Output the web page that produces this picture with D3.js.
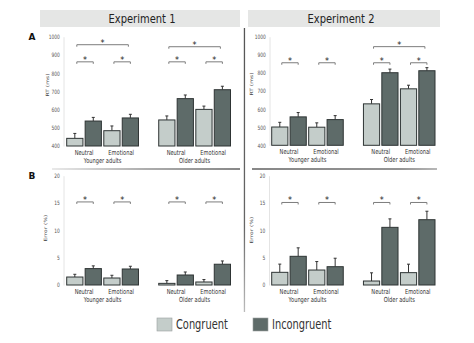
<!DOCTYPE html>
<html>
<head>
<meta charset="utf-8">
<script src="https://cdn.jsdelivr.net/npm/d3@7"></script>
<style>
    body { margin: 0; background: #fff; }
    svg { display: block; font-family: "DejaVu Sans", Verdana, sans-serif; }
</style>
</head>
<body>
<div id="chart"></div>
<script>
// values, order: age group > condition > congruence
const ageGroups = ["Younger adults", "Older adults"];
const conditions = ["Neutral", "Emotional"];
const congruence = ["Congruent", "Incongruent"];
const experiments = ["Experiment 1", "Experiment 2"];

const rtTicks = [400, 500, 600, 700, 800, 900, 1000];
const errorTicks = [0, 5, 10, 15, 20];

const rtExp1 = [442, 537, 484, 554, 543, 660, 601, 709];
const rtExp1Err = [27, 20, 26, 20, 22, 20, 18, 19];
const rtExp2 = [501, 557, 500, 542, 629, 801, 712, 812];
const rtExp2Err = [26, 24, 24, 22, 24, 20, 20, 17];

const errorExp1 = [1.46, 3.0, 1.28, 2.93, 0.3, 1.83, 0.55, 3.8];
const errorExp1Err = [0.5, 0.5, 0.5, 0.5, 0.5, 0.55, 0.45, 0.6];
const errorExp2 = [2.32, 5.25, 2.74, 3.35, 0.73, 10.55, 2.26, 11.95];
const errorExp2Err = [1.5, 1.55, 1.55, 1.55, 1.5, 1.55, 1.55, 1.55];

// significance brackets: [age group, first condition, last condition, level]
const sigRtExp1 = [
    ["Younger adults", "Neutral", "Neutral", 862],
    ["Younger adults", "Emotional", "Emotional", 862],
    ["Younger adults", "Neutral", "Emotional", 956],
    ["Older adults", "Neutral", "Neutral", 862],
    ["Older adults", "Emotional", "Emotional", 862],
    ["Older adults", "Neutral", "Emotional", 945]
];
const sigRtExp2 = [
    ["Younger adults", "Neutral", "Neutral", 856],
    ["Younger adults", "Emotional", "Emotional", 856],
    ["Older adults", "Neutral", "Neutral", 856],
    ["Older adults", "Emotional", "Emotional", 856],
    ["Older adults", "Neutral", "Emotional", 945]
];
const sigErrorExp1 = [
    ["Younger adults", "Neutral", "Neutral", 15.2],
    ["Younger adults", "Emotional", "Emotional", 15.2],
    ["Older adults", "Neutral", "Neutral", 15.2],
    ["Older adults", "Emotional", "Emotional", 15.2]
];
const sigErrorExp2 = [
    ["Younger adults", "Neutral", "Neutral", 15.1],
    ["Younger adults", "Emotional", "Emotional", 15.1],
    ["Older adults", "Neutral", "Neutral", 15.1],
    ["Older adults", "Emotional", "Emotional", 15.1]
];

const width = 474, height = 343;
const squeeze = 0.73;   // the original figure is squashed horizontally

const color = d3.scaleOrdinal(congruence, ["#c4cdca", "#5e6b69"]);

const svg = d3.select("#chart").append("svg")
    .attr("width", width)
    .attr("height", height);

// text helper, squashed like the source picture
function addText(parent, x, y, str, size, opts = {}) {
    let sx = opts.sx || squeeze;
    let t = parent.append("text")
        .attr("transform", "translate(" + x + "," + y + ") scale(" + sx + ",1)" + (opts.rotate ? " rotate(-90)" : ""))
        .attr("text-anchor", opts.anchor || "middle")
        .attr("font-size", size)
        .attr("fill", opts.fill || "#333")
        .text(str);
    if (opts.bold) t.attr("font-weight", "bold");
    if (opts.dy) t.attr("dy", opts.dy);
    return t;
}

// gradients for the separator lines
let defs = svg.append("defs");
function gradient(id, x2, y2, stops) {
    let g = defs.append("linearGradient").attr("id", id)
        .attr("x1", 0).attr("y1", 0).attr("x2", x2).attr("y2", y2);
    stops.forEach(s => g.append("stop").attr("offset", s[0]).attr("stop-color", s[1]));
}
gradient("fadeLeft", 1, 0, [[0, "#e0e0e0"], [0.5, "#8a8a8a"], [1, "#555"]]);
gradient("fadeRight", 1, 0, [[0, "#555"], [0.8, "#666"], [1, "#999"]]);
gradient("fadeDown", 0, 1, [[0, "#555"], [0.7, "#666"], [1, "#bbb"]]);

// experiment headers
const headers = [[40, 240, 142], [248, 440, 341]];
experiments.forEach((name, i) => {
    let h = headers[i];
    svg.append("rect")
        .attr("x", h[0]).attr("y", 10)
        .attr("width", h[1] - h[0]).attr("height", 17)
        .attr("fill", "#e5e6e5");
    addText(svg, h[2], 23, name, 12, {sx: 0.83, fill: "#222"});
});

// separators
svg.append("rect").attr("x", 52).attr("y", 168.3).attr("width", 188).attr("height", 1.4).attr("fill", "url(#fadeLeft)");
svg.append("rect").attr("x", 252).attr("y", 168.3).attr("width", 185).attr("height", 1.4).attr("fill", "url(#fadeRight)");
svg.append("rect").attr("x", 243.8).attr("y", 28).attr("width", 1.3).attr("height", 284).attr("fill", "url(#fadeDown)");

// panel letters
addText(svg, 32, 40, "A", 9, {bold: true, fill: "#111", sx: 1});
addText(svg, 32, 179, "B", 9, {bold: true, fill: "#111", sx: 1});

const panels = [
    {values: rtExp1, errs: rtExp1Err, sig: sigRtExp1, ticks: rtTicks, domain: [400, 1000],
        xRange: [66.7, 230.5], yRange: [146, 36.7], axisX: 63.5, title: "RT (ms)", titleX: 47, titleY: 85},
    {values: rtExp2, errs: rtExp2Err, sig: sigRtExp2, ticks: rtTicks, domain: [400, 1000],
        xRange: [271.7, 435], yRange: [145.3, 36.7], axisX: 269.5, title: "RT (ms)", titleX: 251, titleY: 84},
    {values: errorExp1, errs: errorExp1Err, sig: sigErrorExp1, ticks: errorTicks, domain: [0, 20],
        xRange: [66.7, 230.5], yRange: [285, 175.7], axisX: 63.5, title: "Error (%)", titleX: 45.5, titleY: 228},
    {values: errorExp2, errs: errorExp2Err, sig: sigErrorExp2, ticks: errorTicks, domain: [0, 20],
        xRange: [271.7, 435], yRange: [285, 175.7], axisX: 269, title: "Error (%)", titleX: 251, titleY: 230}
];

panels.forEach(p => {
    let g = svg.append("g");

    let ageX = d3.scaleBand().domain(ageGroups).range(p.xRange).paddingInner(0.22);
    let condX = d3.scaleBand().domain(conditions).range([0, ageX.bandwidth()]).paddingInner(0.065);
    let congX = d3.scaleBand().domain(congruence).range([0, condX.bandwidth()]).paddingInner(0.12);
    let y = d3.scaleLinear().domain(p.domain).range(p.yRange);

    let rows = [];
    ageGroups.forEach((a, i) => conditions.forEach((c, j) => congruence.forEach((k, l) => {
        let idx = i * 4 + j * 2 + l;
        rows.push({age: a, cond: c, cong: k, value: p.values[idx], err: p.errs[idx]});
    })));
    let barX = d => ageX(d.age) + condX(d.cond) + congX(d.cong);

    // axis
    let axis = g.append("g")
        .attr("transform", "translate(" + p.axisX + ",0)")
        .call(d3.axisLeft(y).tickValues(p.ticks).tickFormat(d3.format("d"))
            .tickSize(0).tickSizeOuter(0).tickPadding(5));
    axis.select(".domain").attr("stroke", "#e4e4e4");
    axis.selectAll(".tick text")
        .attr("font-size", 6)
        .attr("font-family", "DejaVu Sans, sans-serif")
        .attr("fill", "#555")
        .attr("transform", "scale(" + squeeze + ",1)");

    addText(g, p.titleX, p.titleY, p.title, 6, {rotate: true, dy: "0.35em", fill: "#444"});

    // error bars
    g.selectAll(".errLine")
        .data(rows)
        .enter()
        .append("line")
        .attr("x1", d => barX(d) + congX.bandwidth() / 2)
        .attr("x2", d => barX(d) + congX.bandwidth() / 2)
        .attr("y1", d => y(d.value))
        .attr("y2", d => y(d.value + d.err))
        .attr("stroke", "#333")
        .attr("stroke-width", 1);

    g.selectAll(".errCap")
        .data(rows)
        .enter()
        .append("line")
        .attr("x1", d => barX(d) + congX.bandwidth() / 2 - 1.5)
        .attr("x2", d => barX(d) + congX.bandwidth() / 2 + 1.5)
        .attr("y1", d => y(d.value + d.err))
        .attr("y2", d => y(d.value + d.err))
        .attr("stroke", "#333")
        .attr("stroke-width", 1);

    // bars
    g.selectAll(".bar")
        .data(rows)
        .enter()
        .append("rect")
        .attr("x", d => barX(d))
        .attr("y", d => y(d.value))
        .attr("width", congX.bandwidth())
        .attr("height", d => y(p.domain[0]) - y(d.value))
        .attr("fill", d => color(d.cong))
        .attr("stroke", "#2e3434")
        .attr("stroke-width", 1);

    // category labels
    let bottom = y(p.domain[0]);
    ageGroups.forEach(a => {
        conditions.forEach(c => {
            addText(g, ageX(a) + condX(c) + condX.bandwidth() / 2, bottom + 8.5, c, 7);
        });
        addText(g, ageX(a) + ageX.bandwidth() / 2, bottom + 16.5, a, 7);
    });

    // significance brackets
    p.sig.forEach(s => {
        let x1 = ageX(s[0]) + condX(s[1]) + congX("Congruent") + congX.bandwidth() / 2 + 2;
        let x2 = ageX(s[0]) + condX(s[2]) + congX("Incongruent") + congX.bandwidth() / 2 - (s[1] === s[2] ? 0 : 2);
        let by = y(s[3]);
        g.append("path")
            .attr("d", "M" + x1 + "," + (by + 2) + "V" + by + "H" + x2 + "V" + (by + 2))
            .attr("fill", "none")
            .attr("stroke", "#7d7d7d")
            .attr("stroke-width", 1);
        addText(g, (x1 + x2) / 2, by + 1, "*", 8, {fill: "#222", sx: 1});
    });
});

// legend
const legendX = [157, 253];
congruence.forEach((k, i) => {
    svg.append("rect")
        .attr("x", legendX[i]).attr("y", 318)
        .attr("width", 15).attr("height", 13)
        .attr("fill", color(k))
        .attr("stroke", "#9a9f9e")
        .attr("stroke-width", 0.6);
    addText(svg, legendX[i] + 19, 329, k, 13.5, {anchor: "start", fill: "#333"});
});
</script>
</body>
</html>
